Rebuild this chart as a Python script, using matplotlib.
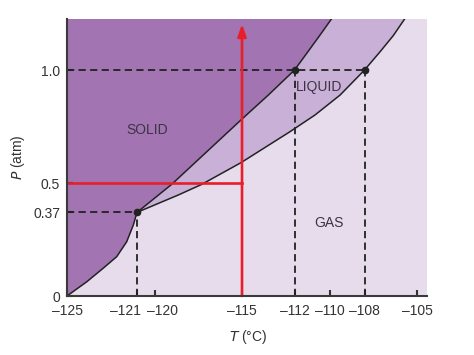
import matplotlib
matplotlib.use("Agg")
import matplotlib.pyplot as plt
import matplotlib.transforms as mtransforms

plt.rcParams['font.family'] = ['Liberation Sans Narrow', 'Liberation Sans', 'DejaVu Sans']

# phase boundaries (T in degC, P in atm)
sub_T = [-125, -123.87, -122.93, -122.16, -121.59, -121.21, -121]
sub_P = [0, 0.063, 0.123, 0.174, 0.240, 0.314, 0.37]
melt_T = [-121, -119.02, -115.06, -113.50, -112, -111.30, -110.54, -109.87]
melt_P = [0.37, 0.494, 0.779, 0.889, 1.0, 1.074, 1.155, 1.228]
vap_T = [-121, -118.64, -117.30, -115.06, -112.26, -110.83, -109.4, -108,
         -107.11, -106.35, -105.69]
vap_P = [0.37, 0.447, 0.494, 0.590, 0.727, 0.801, 0.889, 1.0,
         1.081, 1.153, 1.228]

triple = (-121, 0.37)
melt_pt = (-112, 1.0)
boil_pt = (-108, 1.0)
path_T = -115
path_P = 0.5

xticks = [-125, -121, -120, -115, -112, -110, -108, -105]
xlabels = ['–125', '–121', '–120', '–115', '–112', '–110', '–108', '–105']
yticks = [0, 0.37, 0.5, 1.0]
ylabels = ['0', '0.37', '0.5', '1.0']

XMIN, XMAX = -125, -104.43
YMIN, YMAX = 0, 1.228

c_solid = '#a274b2'
c_liquid = '#c9b0d6'
c_gas = '#e7dcec'
red = '#e81e2a'
ink = '#222222'

fig = plt.figure(figsize=(4.74, 3.55), dpi=100)
ax = fig.add_axes([67 / 474, 59 / 355, 360 / 474, 277.5 / 355])
ax.set_facecolor(c_gas)

# solid region
sx = sub_T + melt_T[1:] + [XMIN]
sy = sub_P + melt_P[1:] + [YMAX]
ax.fill(sx, sy, color=c_solid, lw=0, zorder=1)
# liquid region
lx = melt_T + vap_T[::-1]
ly = melt_P + vap_P[::-1]
ax.fill(lx, ly, color=c_liquid, lw=0, zorder=1)

for xs, ys in [(sub_T, sub_P), (melt_T, melt_P), (vap_T, vap_P)]:
    ax.plot(xs, ys, color=ink, lw=1.1, zorder=3, solid_joinstyle='round')

dash = dict(color=ink, lw=1.3, dashes=(4, 2.4), zorder=2)
ax.plot([XMIN, boil_pt[0]], [1.0, 1.0], **dash)
ax.plot([melt_pt[0]] * 2, [0, 1.0], **dash)
ax.plot([boil_pt[0]] * 2, [0, 1.0], **dash)
ax.plot([XMIN, triple[0]], [triple[1]] * 2, **dash)
ax.plot([triple[0]] * 2, [0, triple[1]], **dash)

ax.plot([XMIN, path_T], [path_P, path_P], color=red, lw=1.9, zorder=4)
ax.annotate('', xy=(path_T, 1.204), xytext=(path_T, 0),
            arrowprops=dict(arrowstyle='-|>,head_length=0.4,head_width=0.14',
                            mutation_scale=18, color=red, lw=1.9,
                            shrinkA=0, shrinkB=0), zorder=4)

ax.plot([triple[0], melt_pt[0], boil_pt[0]], [triple[1], melt_pt[1], boil_pt[1]],
        'o', color=ink, ms=4.5, zorder=5)

txt = '#3d3345'
ax.text(-120.43, 0.735, 'SOLID', fontsize=10, color=txt, ha='center', va='center')
ax.text(-110.6, 0.925, 'LIQUID', fontsize=10, color=txt, ha='center', va='center')
ax.text(-110.03, 0.323, 'GAS', fontsize=10, color=txt, ha='center', va='center')

ax.set_xlim(XMIN, XMAX)
ax.set_ylim(YMIN, YMAX)
ax.set_xticks(xticks)
ax.set_xticklabels(xlabels)
ax.set_yticks(yticks)
ax.set_yticklabels(ylabels)
ax.tick_params(direction='in', length=4, width=1.5, color='#333333',
               labelsize=10, labelcolor='#333333')
ax.tick_params(axis='x', pad=6)
ax.tick_params(axis='y', pad=5)

for s in ['top', 'right']:
    ax.spines[s].set_visible(False)
for s in ['left', 'bottom']:
    ax.spines[s].set_color('#3a3a3a')
    ax.spines[s].set_linewidth(1.5)
    ax.spines[s].set_zorder(6)

# nudge the two crowded labels apart, as in the original
shifts = {'–121': -12, '–120': 8}
for lab in ax.get_xticklabels():
    dx = shifts.get(lab.get_text(), 0)
    if dx:
        lab.set_transform(lab.get_transform() +
                          mtransforms.ScaledTranslation(dx / 100, 0, fig.dpi_scale_trans))

ax.set_xlabel('$\\it{T}$ (°C)', fontsize=10, color='#333333')
ax.set_ylabel('$\\it{P}$ (atm)', fontsize=10, color='#333333')
ax.xaxis.set_label_coords(0.503, -0.115)
ax.yaxis.set_label_coords(-0.111, 0.5)

fig.savefig('out.png', dpi=100)
